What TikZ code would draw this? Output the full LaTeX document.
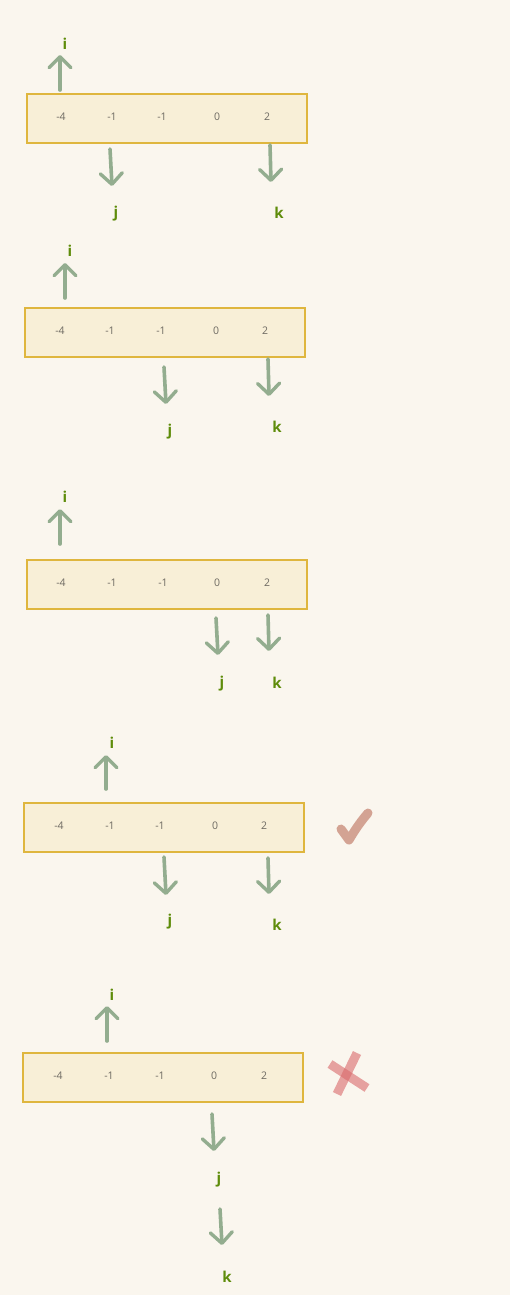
\documentclass[tikz,border=0pt]{standalone}
\usepackage{fontspec}
\setmainfont{Open Sans}
\usetikzlibrary{arrows.meta}
\definecolor{bg}{HTML}{FAF6EE}
\definecolor{boxfill}{HTML}{F8EFD7}
\definecolor{boxline}{HTML}{DFB63E}
\definecolor{arrowc}{HTML}{93AD8F}
\definecolor{lbl}{HTML}{5E8C0A}
\definecolor{numc}{HTML}{6E6A62}
\definecolor{okc}{HTML}{D3A393}
\definecolor{badc}{HTML}{D9696B}
\tikzset{
  arr/.style={draw=arrowc, line width=3.6pt, line cap=round, line join=round,
    -{Straight Barb[length=11pt,width=22pt,line width=3.4pt,round]}},
  arrbox/.style={draw=boxline, fill=boxfill, line width=2pt, minimum width=280pt, minimum height=49pt, inner sep=0pt, anchor=north west},
  num/.style={text=numc, font=\fontsize{10.5}{12}\selectfont, inner sep=0pt},
  ptrlbl/.style={text=lbl, font=\bfseries\fontsize{15}{16}\selectfont, inner sep=0pt},
}
\begin{document}
\begin{tikzpicture}[x=1pt,y=-1pt]
\useasboundingbox[fill=bg] (0,0) rectangle (510,1295);

% ---------- panel 1 ----------
\node[arrbox] (b1) at (26,93) {};
\node[num] (b1n1) at (61,117) {-4};
\node[num] (b1n2) at (112,117) {-1};
\node[num] (b1n3) at (162,117) {-1};
\node[num] (b1n4) at (217,117) {0};
\node[num] (b1n5) at (267,117) {2};
\coordinate (b1is) at (60,90); \coordinate (b1ie) at (60,55);
\coordinate (b1js) at (110,149); \coordinate (b1je) at (112,186);
\coordinate (b1ks) at (270,145); \coordinate (b1ke) at (271,182);
\draw[arr] (b1is) -- (b1ie);
\draw[arr] (b1js) -- (b1je);
\draw[arr] (b1ks) -- (b1ke);
\node[ptrlbl] (b1i) at (65,44) {i};
\node[ptrlbl] (b1j) at (116,214) {j};
\node[ptrlbl] (b1k) at (279,213) {k};

% ---------- panel 2 ----------
\node[arrbox] (b2) at (24,307) {};
\node[num] (b2n1) at (60,331) {-4};
\node[num] (b2n2) at (110,331) {-1};
\node[num] (b2n3) at (161,331) {-1};
\node[num] (b2n4) at (216,331) {0};
\node[num] (b2n5) at (265,331) {2};
\coordinate (b2is) at (65,298); \coordinate (b2ie) at (65,263);
\coordinate (b2js) at (164,367); \coordinate (b2je) at (166,404);
\coordinate (b2ks) at (268,359); \coordinate (b2ke) at (269,396);
\draw[arr] (b2is) -- (b2ie);
\draw[arr] (b2js) -- (b2je);
\draw[arr] (b2ks) -- (b2ke);
\node[ptrlbl] (b2i) at (70,251) {i};
\node[ptrlbl] (b2j) at (170,432) {j};
\node[ptrlbl] (b2k) at (277,427) {k};

% ---------- panel 3 ----------
\node[arrbox] (b3) at (26,559) {};
\node[num] (b3n1) at (61,583) {-4};
\node[num] (b3n2) at (112,583) {-1};
\node[num] (b3n3) at (163,583) {-1};
\node[num] (b3n4) at (217,583) {0};
\node[num] (b3n5) at (267,583) {2};
\coordinate (b3is) at (60,544); \coordinate (b3ie) at (60,509);
\coordinate (b3js) at (216,618); \coordinate (b3je) at (218,655);
\coordinate (b3ks) at (268,615); \coordinate (b3ke) at (269,651);
\draw[arr] (b3is) -- (b3ie);
\draw[arr] (b3js) -- (b3je);
\draw[arr] (b3ks) -- (b3ke);
\node[ptrlbl] (b3i) at (65,497) {i};
\node[ptrlbl] (b3j) at (222,684) {j};
\node[ptrlbl] (b3k) at (277,683) {k};

% ---------- panel 4 ----------
\node[arrbox] (b4) at (23,802) {};
\node[num] (b4n1) at (59,826) {-4};
\node[num] (b4n2) at (110,826) {-1};
\node[num] (b4n3) at (160,826) {-1};
\node[num] (b4n4) at (215,826) {0};
\node[num] (b4n5) at (264,826) {2};
\coordinate (b4is) at (106,789); \coordinate (b4ie) at (106,755);
\coordinate (b4js) at (164,857); \coordinate (b4je) at (166,895);
\coordinate (b4ks) at (268,858); \coordinate (b4ke) at (269,894);
\draw[arr] (b4is) -- (b4ie);
\draw[arr] (b4js) -- (b4je);
\draw[arr] (b4ks) -- (b4ke);
\node[ptrlbl] (b4i) at (112,743) {i};
\node[ptrlbl] (b4j) at (170,922) {j};
\node[ptrlbl] (b4k) at (277,925) {k};
% check mark
\draw[okc, line width=9pt, line cap=round, line join=round]
  (341,829) -- (349,840) .. controls (356,828) and (362,820) .. (368,813);

% ---------- panel 5 ----------
\node[arrbox] (b5) at (22,1052) {};
\node[num] (b5n1) at (58,1076) {-4};
\node[num] (b5n2) at (109,1076) {-1};
\node[num] (b5n3) at (160,1076) {-1};
\node[num] (b5n4) at (214,1076) {0};
\node[num] (b5n5) at (264,1076) {2};
\coordinate (b5is) at (107,1041); \coordinate (b5ie) at (107,1006);
\coordinate (b5js) at (212,1114); \coordinate (b5je) at (214,1151);
\coordinate (b5ks) at (220,1209); \coordinate (b5ke) at (222,1245);
\draw[arr] (b5is) -- (b5ie);
\draw[arr] (b5js) -- (b5je);
\draw[arr] (b5ks) -- (b5ke);
\node[ptrlbl] (b5i) at (112,995) {i};
\node[ptrlbl] (b5j) at (219,1180) {j};
\node[ptrlbl] (b5k) at (227,1277) {k};
% cross
\draw[badc, opacity=0.6, line width=9pt] (330,1064) -- (367,1088);
\draw[badc, opacity=0.6, line width=9pt] (357,1053) -- (337,1094);
\end{tikzpicture}
\end{document}
